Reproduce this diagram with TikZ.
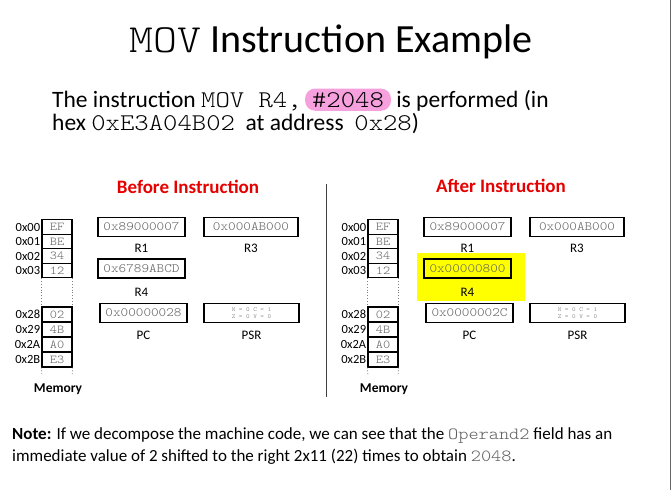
\documentclass[tikz,border=0pt]{standalone}
\usepackage{fontspec}
\setmainfont{Carlito}
\setmonofont[FakeStretch=1.14]{Latin Modern Mono Light}
\definecolor{pinkhl}{RGB}{247,160,222}
\definecolor{redhead}{RGB}{230,0,0}
\definecolor{valgray}{RGB}{95,95,95}
\definecolor{yellowhl}{RGB}{255,255,0}
\tikzset{
  txt/.style={inner sep=0pt, text=black},
  memcell/.style={draw, line width=1.3pt, minimum width=30pt, minimum height=15pt, inner sep=0pt, font=\ttfamily\fontsize{12}{12}\selectfont, text=valgray},
  addr/.style={anchor=east, inner sep=1pt, font=\fontsize{12.5}{12.5}\selectfont},
  regbox/.style={draw, line width=1.8pt, minimum height=19pt, inner sep=0pt, font=\ttfamily\fontsize{12.7}{12.7}\selectfont, text=valgray},
  reglbl/.style={inner sep=0pt, font=\fontsize{13}{13}\selectfont},
  dots/.style={draw=gray, dotted, line width=0.8pt},
  heading/.style={inner sep=0pt, font=\bfseries\fontsize{19}{19}\selectfont, text=redhead},
}
\newcommand{\statepanel}[5]{%
  \begin{scope}[xshift=#2]
    #5
    % memory
    \foreach \a/\v [count=\i from 0] in {0x00/EF,0x01/BE,0x02/34,0x03/12}{
      \node[memcell, minimum height=14.5pt] (#1m\i) at (57,{227+14.5*\i}) {\v};
      \node[addr] (#1a\i) at (#1m\i.west) {\a};
    }
    \foreach \a/\v [count=\i from 4] in {0x28/02,0x29/4B,0x2A/A0,0x2B/E3}{
      \node[memcell] (#1m\i) at (57,{314.5+15*(\i-4)}) {\v};
      \node[addr] (#1a\i) at (#1m\i.west) {\a};
    }
    \coordinate (#1el) at (42,376);
    \coordinate (#1er) at (72,376);
    \draw[dots] (#1m3.south west) -- (#1m4.north west);
    \draw[dots] (#1m3.south east) -- (#1m4.north east);
    \draw[dots] (#1m7.south west) -- (#1el);
    \draw[dots] (#1m7.south east) -- (#1er);
    \node[reglbl, font=\bfseries\fontsize{13.5}{13.5}\selectfont] (#1mem) at (58,389) {Memory};
    % registers
    \node[regbox, minimum width=87pt] (#1r1) at (141.5,227) {0x89000007};
    \node[reglbl] (#1r1l) at (141.5,248) {R1};
    \node[regbox, minimum width=94pt] (#1r3) at (251,227) {0x000AB000};
    \node[reglbl] (#1r3l) at (251,248) {R3};
    \node[regbox, minimum width=87pt] (#1r4) at (141.5,268.5) {#3};
    \node[reglbl] (#1r4l) at (141.5,292) {R4};
    \node[regbox, minimum width=87pt] (#1pc) at (143.5,313) {#4};
    \node[reglbl] (#1pcl) at (143.5,335) {PC};
    \node[regbox, minimum width=95pt, align=center, font=\ttfamily\fontsize{6}{6.5}\selectfont] (#1psr) at (251.5,313) {N = 0 C = 1\\Z = 0 V = 0};
    \node[reglbl] (#1psrl) at (251.5,335) {PSR};
  \end{scope}}
\begin{document}
\begin{tikzpicture}[x=1pt,y=-1pt]
\useasboundingbox (0,0) rectangle (671,490);
\fill[white] (0,0) rectangle (671,490);
\coordinate (bt) at (670,0);
\coordinate (bb) at (670,490);
\draw[gray!80!black, line width=1pt] (bt) -- (bb);
% title
\node[txt, anchor=base, font=\fontsize{40}{40}\selectfont] (title) at (331,52) {{\ttfamily MOV} Instruction Example};
% subtitle
\node[txt, anchor=base west, font=\fontsize{23.5}{23.5}\selectfont] (s1) at (52,107) {The instruction {\ttfamily\fontsize{24}{24}\selectfont MOV R4,}};
\node[anchor=base west, fill=pinkhl, rounded corners=10pt, inner xsep=7pt, inner ysep=3.5pt, font=\ttfamily\fontsize{24}{24}\selectfont] (s2) at ([xshift=3pt]s1.base east) {\#2048};
\node[txt, anchor=base west, font=\fontsize{23.5}{23.5}\selectfont] (s3) at ([xshift=5pt]s2.base east) {is performed (in};
\node[txt, anchor=base west, font=\fontsize{23.5}{23.5}\selectfont] (s4) at (52,130) {hex {\ttfamily\fontsize{24}{24}\selectfont 0xE3A04B02} \ at address \ {\ttfamily\fontsize{24}{24}\selectfont 0x28})};
% headings
\node[heading] (hb) at (188,187) {Before Instruction};
\node[heading] (ha) at (501,186) {After Instruction};
\coordinate (dt) at (326,184);
\coordinate (db) at (326,397);
\draw[line width=1pt, black!75] (dt) -- (db);
\statepanel{L}{0pt}{0x6789ABCD}{0x00000028}{}
\statepanel{R}{326pt}{0x00000800}{0x0000002C}{\fill[yellowhl] (91,253) rectangle (199,301);}
% note
\node[txt, anchor=base west, font=\fontsize{17}{17}\selectfont] (n1) at (12,439) {\textbf{Note:} If we decompose the machine code, we can see that the {\color{valgray}\ttfamily Operand2} field has an};
\node[txt, anchor=base west, font=\fontsize{17}{17}\selectfont] (n2) at (12,461) {immediate value of 2 shifted to the right 2x11 (22) times to obtain {\color{valgray}\ttfamily 2048}.};
\end{tikzpicture}
\end{document}
